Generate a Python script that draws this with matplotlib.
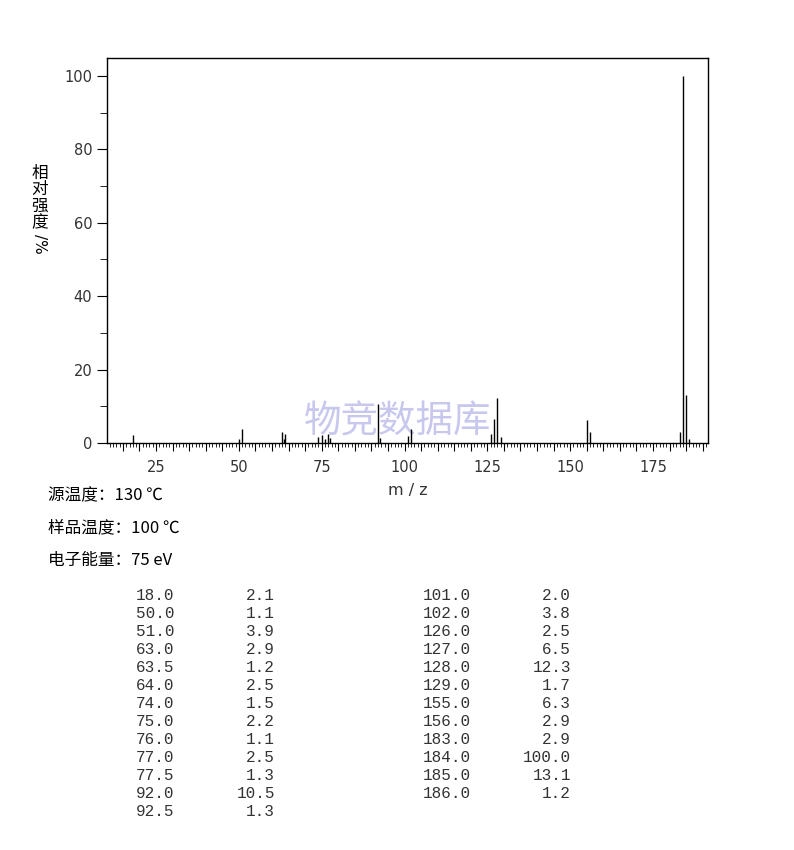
import matplotlib.pyplot as plt
from matplotlib.ticker import MultipleLocator, FuncFormatter

plt.rcParams['font.family'] = ['Noto Sans CJK SC', 'DejaVu Sans']

mz = [18.0, 50.0, 51.0, 63.0, 63.5, 64.0, 74.0, 75.0, 76.0, 77.0, 77.5, 92.0, 92.5,
      101.0, 102.0, 126.0, 127.0, 128.0, 129.0, 155.0, 156.0, 183.0, 184.0, 185.0, 186.0]
intensity = [2.1, 1.1, 3.9, 2.9, 1.2, 2.5, 1.5, 2.2, 1.1, 2.5, 1.3, 10.5, 1.3,
             2.0, 3.8, 2.5, 6.5, 12.3, 1.7, 6.3, 2.9, 2.9, 100.0, 13.1, 1.2]
conditions = ["源温度：130 ℃", "样品温度：100 ℃", "电子能量：75 eV"]

fig = plt.figure(figsize=(7.94, 8.5), dpi=100)
ax = fig.add_axes([107 / 794, 1 - 443 / 850, 601 / 794, 385 / 850])

# watermark sits under the peaks
ax.text(398 / 794, 1 - 422 / 850, "物竞数据库", fontsize=27, color='#c8c8ee',
        ha='center', va='center', zorder=0, transform=fig.transFigure)
ax.vlines(mz, 0, intensity, color='black', linewidth=1, zorder=2)
ax.set_xlim(10.2, 191.6)
ax.set_ylim(0, 104.9)

ax.xaxis.set_major_locator(MultipleLocator(5))
ax.xaxis.set_minor_locator(MultipleLocator(1))
ax.xaxis.set_major_formatter(FuncFormatter(lambda v, p: f"{v:.0f}" if v % 25 == 0 else ""))
ax.yaxis.set_major_locator(MultipleLocator(20))
ax.yaxis.set_minor_locator(MultipleLocator(10))
ax.tick_params(axis='both', which='both', direction='out', colors='black',
               labelcolor='#333333', labelsize=10.5)
ax.tick_params(axis='x', which='major', length=6, pad=6)
ax.tick_params(axis='x', which='minor', length=3)
ax.tick_params(axis='y', which='major', length=7)
ax.tick_params(axis='y', which='minor', length=5)
for lbl in ax.get_xticklabels() + ax.get_yticklabels():
    lbl.set_family('DejaVu Sans')
for s in ax.spines.values():
    s.set_linewidth(1)

ax.set_xlabel("m / z", fontsize=11.5, color='#333333', labelpad=6, family='DejaVu Sans')

fig.text(40 / 794, 1 - 198 / 850, "相\n对\n强\n度", fontsize=12, ha='center', va='center',
         linespacing=0.95)
fig.text(40 / 794, 1 - 244 / 850, "/%", fontsize=11, ha='center', va='center',
         rotation=-90, family='DejaVu Sans')

for i, line in enumerate(conditions):
    fig.text(48 / 794, 1 - (496 + i * 32) / 850, line, fontsize=12, va='center')

half = (len(mz) + 1) // 2
for i in range(len(mz)):
    col = 0 if i < half else 1
    row = i if col == 0 else i - half
    y = 1 - (596 + row * 18) / 850
    xl = 136 if col == 0 else 423
    xr = 275 if col == 0 else 571
    fig.text(xl / 794, y, f"{mz[i]:.1f}", family='Liberation Mono', fontsize=11.5,
             color='#333333', va='center', ha='left')
    fig.text(xr / 794, y, f"{intensity[i]:.1f}", family='Liberation Mono', fontsize=11.5,
             color='#333333', va='center', ha='right')

fig.savefig("out.png", dpi=100)
